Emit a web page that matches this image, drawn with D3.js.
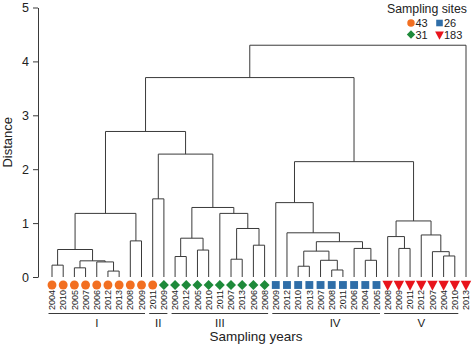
<!DOCTYPE html>
<html>
<head>
<meta charset="utf-8">
<script src="https://cdn.jsdelivr.net/npm/d3@7"></script>
<style>
  body { margin: 0; background: #fff; }
  svg { font-family: "Liberation Sans", Arial, sans-serif; display: block; }
</style>
</head>
<body>
<svg id="chart"></svg>
<script>
// leaves in dendrogram order
const leafYears = [
  2004, 2010, 2005, 2007, 2006, 2012, 2013, 2008, 2009,
  2011, 2009,
  2004, 2012, 2005, 2010, 2011, 2007, 2013, 2006, 2008,
  2009, 2012, 2010, 2013, 2007, 2008, 2011, 2006, 2004, 2005,
  2008, 2009, 2011, 2012, 2007, 2004, 2010, 2013
];
const leafSites = [
  43, 43, 43, 43, 43, 43, 43, 43, 43,
  43, 31,
  31, 31, 31, 31, 31, 31, 31, 31, 31,
  26, 26, 26, 26, 26, 26, 26, 26, 26, 26,
  183, 183, 183, 183, 183, 183, 183, 183
];

// [id, left, right, distance]; numbers are leaf indices, strings are earlier merges
const merges = [
  ["a", 0, 1, 0.22],
  ["b", 2, 3, 0.17],
  ["c", 5, 6, 0.11],
  ["d", 4, "c", 0.28],
  ["e", "b", "d", 0.30],
  ["f", "a", "e", 0.51],
  ["g", 7, 8, 0.67],
  ["I", "f", "g", 1.18],
  ["II", 9, 10, 1.45],
  ["h", 11, 12, 0.38],
  ["i", 13, 14, 0.50],
  ["j", "h", "i", 0.72],
  ["k", 16, 17, 0.33],
  ["l", 18, 19, 0.59],
  ["m", "k", "l", 0.90],
  ["n", 15, "m", 1.18],
  ["III", "j", "n", 1.29],
  ["o", "II", "III", 2.28],
  ["p", "I", "o", 2.70],
  ["q", 22, 23, 0.20],
  ["r", 25, 26, 0.13],
  ["s", 24, "r", 0.31],
  ["t", "q", "s", 0.48],
  ["u", 28, 29, 0.31],
  ["v", 27, "u", 0.53],
  ["w", "t", "v", 0.655],
  ["x", 21, "w", 0.82],
  ["IV", 20, "x", 1.38],
  ["y", 31, 32, 0.53],
  ["z", 30, "y", 0.75],
  ["aa", 35, 36, 0.39],
  ["ab", 34, "aa", 0.47],
  ["ac", 33, "ab", 0.78],
  ["V", "z", "ac", 1.04],
  ["ad", "IV", "V", 2.14],
  ["ae", "p", "ad", 3.70],
  ["root", "ae", 37, 4.30]
];

const groupLabels = ["I", "II", "III", "IV", "V"];
const groupRanges = [[0, 8], [9, 10], [11, 19], [20, 29], [30, 36]];
const groupLabelAt = [4, 9.5, 15, 25.3, 33];

const siteCodes = [43, 26, 31, 183];
const siteColours = ["#f26f21", "#2f6ea8", "#1e8a3a", "#e8141c"];

const yTicks = [0, 1, 2, 3, 4, 5];

const width = 474, height = 346;
const line = "#3a3a3a";

const svg = d3.select("#chart").attr("width", width).attr("height", height);

const x = d3.scalePoint()
  .domain(d3.range(leafYears.length))
  .range([52, 466]);

const y = d3.scaleLinear()
  .domain([0, 5])
  .range([277, 7.5]);

// y axis
const yAxis = svg.append("g")
  .attr("transform", "translate(38,0)")
  .call(d3.axisLeft(y)
    .tickValues(yTicks)
    .tickFormat(d3.format("d"))
    .tickSize(5)
    .tickSizeOuter(0)
    .tickPadding(4));
yAxis.select(".domain").attr("stroke", line);
yAxis.selectAll(".tick line").attr("stroke", line);
yAxis.selectAll(".tick text")
  .attr("fill", "#222")
  .style("font-size", "12.5px")
  .style("font-family", "Liberation Sans, Arial, sans-serif");

svg.append("text")
  .attr("transform", `translate(12, ${(y(0) + y(5)) / 2}) rotate(-90)`)
  .attr("text-anchor", "middle")
  .attr("fill", "#222")
  .style("font-size", "13px")
  .text("Distance");

// dendrogram links
const pos = {};
const nodeX = k => typeof k === "number" ? x(k) : pos[k].x;
const nodeH = k => typeof k === "number" ? 0 : pos[k].h;

merges.forEach(([id, l, r, h]) => {
  pos[id] = { x: (nodeX(l) + nodeX(r)) / 2, h: h };
});

svg.append("g")
  .selectAll("path")
  .data(merges)
  .join("path")
  .attr("fill", "none")
  .attr("stroke", line)
  .attr("stroke-width", 1)
  .attr("d", ([id, l, r, h]) =>
    `M${nodeX(l)},${y(nodeH(l))}V${y(h)}H${nodeX(r)}V${y(nodeH(r))}`);

// leaf markers
const triangleDown = {
  draw(ctx, size) {
    const s = Math.sqrt(size);
    ctx.moveTo(-s * 0.55, -s * 0.45);
    ctx.lineTo(s * 0.55, -s * 0.45);
    ctx.lineTo(0, s * 0.6);
    ctx.closePath();
  }
};
const siteSymbol = {
  43: { type: d3.symbolCircle, size: 62, rotate: 0 },
  26: { type: d3.symbolSquare, size: 62, rotate: 0 },
  31: { type: d3.symbolSquare, size: 50, rotate: 45 },
  183: { type: triangleDown, size: 90, rotate: 0 }
};
const colour = d3.scaleOrdinal().domain(siteCodes).range(siteColours);

const markerY = 285;
svg.append("g")
  .selectAll("path")
  .data(leafSites)
  .join("path")
  .attr("transform", (d, i) => `translate(${x(i)},${markerY}) rotate(${siteSymbol[d].rotate})`)
  .attr("d", d => d3.symbol(siteSymbol[d].type, siteSymbol[d].size)())
  .attr("fill", d => colour(d));

// year labels
svg.append("g")
  .selectAll("text")
  .data(leafYears)
  .join("text")
  .attr("transform", (d, i) => `translate(${x(i)},290) rotate(-90)`)
  .attr("text-anchor", "end")
  .attr("dy", "0.35em")
  .attr("fill", "#222")
  .style("font-size", "9px")
  .text(d => d);

// group brackets
const step = x.step();
svg.append("g")
  .selectAll("line")
  .data(groupRanges)
  .join("line")
  .attr("x1", d => x(d[0]) - 3.5)
  .attr("x2", d => x(d[1]) + 3.5)
  .attr("y1", 313.5)
  .attr("y2", 313.5)
  .attr("stroke", line);

svg.append("g")
  .selectAll("text")
  .data(groupLabels)
  .join("text")
  .attr("x", (d, i) => x(0) + groupLabelAt[i] * step)
  .attr("y", 326.5)
  .attr("text-anchor", "middle")
  .attr("fill", "#222")
  .style("font-size", "11.5px")
  .text(d => d);

svg.append("text")
  .attr("x", 256)
  .attr("y", 341)
  .attr("text-anchor", "middle")
  .attr("fill", "#222")
  .style("font-size", "13.5px")
  .text("Sampling years");

// legend
const legend = svg.append("g");
legend.append("text")
  .attr("x", 467)
  .attr("y", 12.5)
  .attr("text-anchor", "end")
  .attr("fill", "#222")
  .style("font-size", "12.3px")
  .text("Sampling sites");

const legendPos = {
  43: [411, 23], 26: [439.5, 23], 31: [411, 34.5], 183: [439.5, 35]
};
const legendItems = legend.selectAll("g.item")
  .data(siteCodes)
  .join("g")
  .attr("class", "item")
  .attr("transform", d => `translate(${legendPos[d][0]},${legendPos[d][1]})`);

legendItems.append("path")
  .attr("transform", d => `rotate(${siteSymbol[d].rotate})`)
  .attr("d", d => d3.symbol(siteSymbol[d].type, siteSymbol[d].size * 0.7)())
  .attr("fill", d => colour(d));

legendItems.append("text")
  .attr("x", 4.5)
  .attr("y", d => d === 183 ? 3.5 : 4)
  .attr("fill", "#222")
  .style("font-size", "11px")
  .text(d => d);
</script>
</body>
</html>
